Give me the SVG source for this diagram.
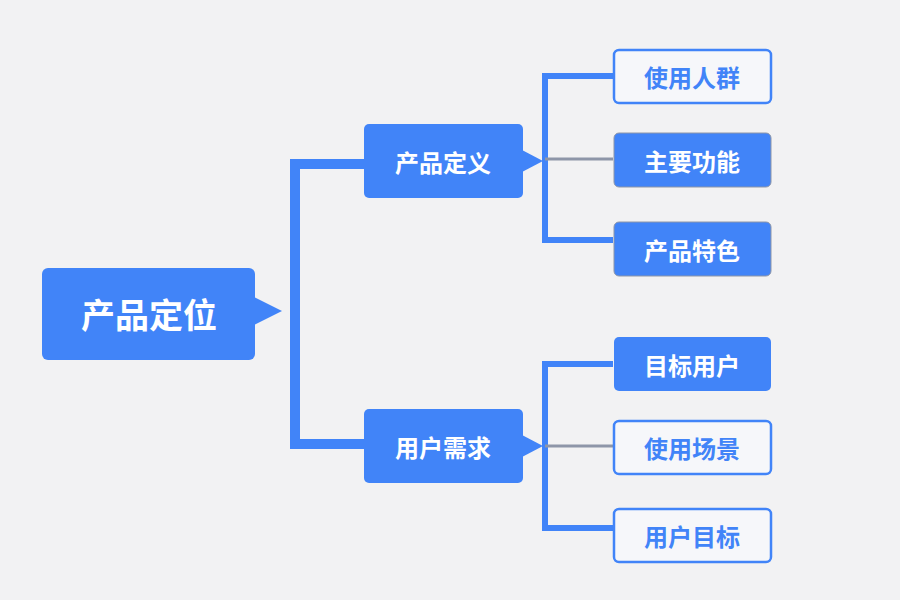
<svg xmlns="http://www.w3.org/2000/svg" width="900" height="600" viewBox="0 0 900 600">
<style>
text{font-family:"Noto Sans CJK SC","Noto Sans",sans-serif;text-anchor:middle;dominant-baseline:central}
.f{fill:#4184F8}
.o{fill:#F6F7FA;stroke:#4184F8;stroke-width:2.5}
.fs{fill:#4184F8;stroke:#8E96A8;stroke-width:1}
.w{fill:#fff}
.b{fill:#4184F8}
.ln{fill:none;stroke:#4184F8;stroke-width:6}
.g{stroke:#8E96A8;stroke-width:3}
</style>
<rect width="900" height="600" fill="#F2F2F3"/>
<g id="connectors">
<path d="M365 164 H295 V444 H365" fill="none" stroke="#4184F8" stroke-width="10"/>
<path class="ln" d="M613 76 H545 V240 H613"/>
<line class="g" x1="545" y1="159" x2="613" y2="159"/>
<path class="ln" d="M613 364 H545 V528 H613"/>
<line class="g" x1="545" y1="446" x2="613" y2="446"/>
</g>
<g id="root"><rect x="42" y="268" width="213" height="92" rx="6" class="f"/><path d="M254 297 L282 311 L254 325Z" class="f"/><text x="149" y="313" class="w" font-size="34" font-weight="bold">产品定位</text></g>
<g id="n1"><rect x="364" y="124" width="159" height="74" rx="5" class="f"/><path d="M522 150 L543 161 L522 172Z" class="f"/><text x="443" y="161" class="w" font-size="24" font-weight="bold">产品定义</text></g>
<g id="n2"><rect x="364" y="409" width="159" height="74" rx="5" class="f"/><path d="M522 435 L543 446 L522 457Z" class="f"/><text x="443" y="446" class="w" font-size="24" font-weight="bold">用户需求</text></g>
<g id="c1"><rect x="614" y="50" width="157" height="53" rx="5" class="o"/><text x="692" y="76" class="b" font-size="24" font-weight="bold">使用人群</text></g>
<g id="c2"><rect x="614" y="133" width="157" height="54" rx="5" class="fs"/><text x="692" y="160" class="w" font-size="24" font-weight="bold">主要功能</text></g>
<g id="c3"><rect x="614" y="222" width="157" height="54" rx="5" class="fs"/><text x="692" y="249" class="w" font-size="24" font-weight="bold">产品特色</text></g>
<g id="c4"><rect x="614" y="337" width="157" height="54" rx="5" class="f"/><text x="692" y="364" class="w" font-size="24" font-weight="bold">目标用户</text></g>
<g id="c5"><rect x="614" y="421" width="157" height="53" rx="5" class="o"/><text x="692" y="447" class="b" font-size="24" font-weight="bold">使用场景</text></g>
<g id="c6"><rect x="614" y="509" width="157" height="53" rx="5" class="o"/><text x="692" y="535" class="b" font-size="24" font-weight="bold">用户目标</text></g>
</svg>
